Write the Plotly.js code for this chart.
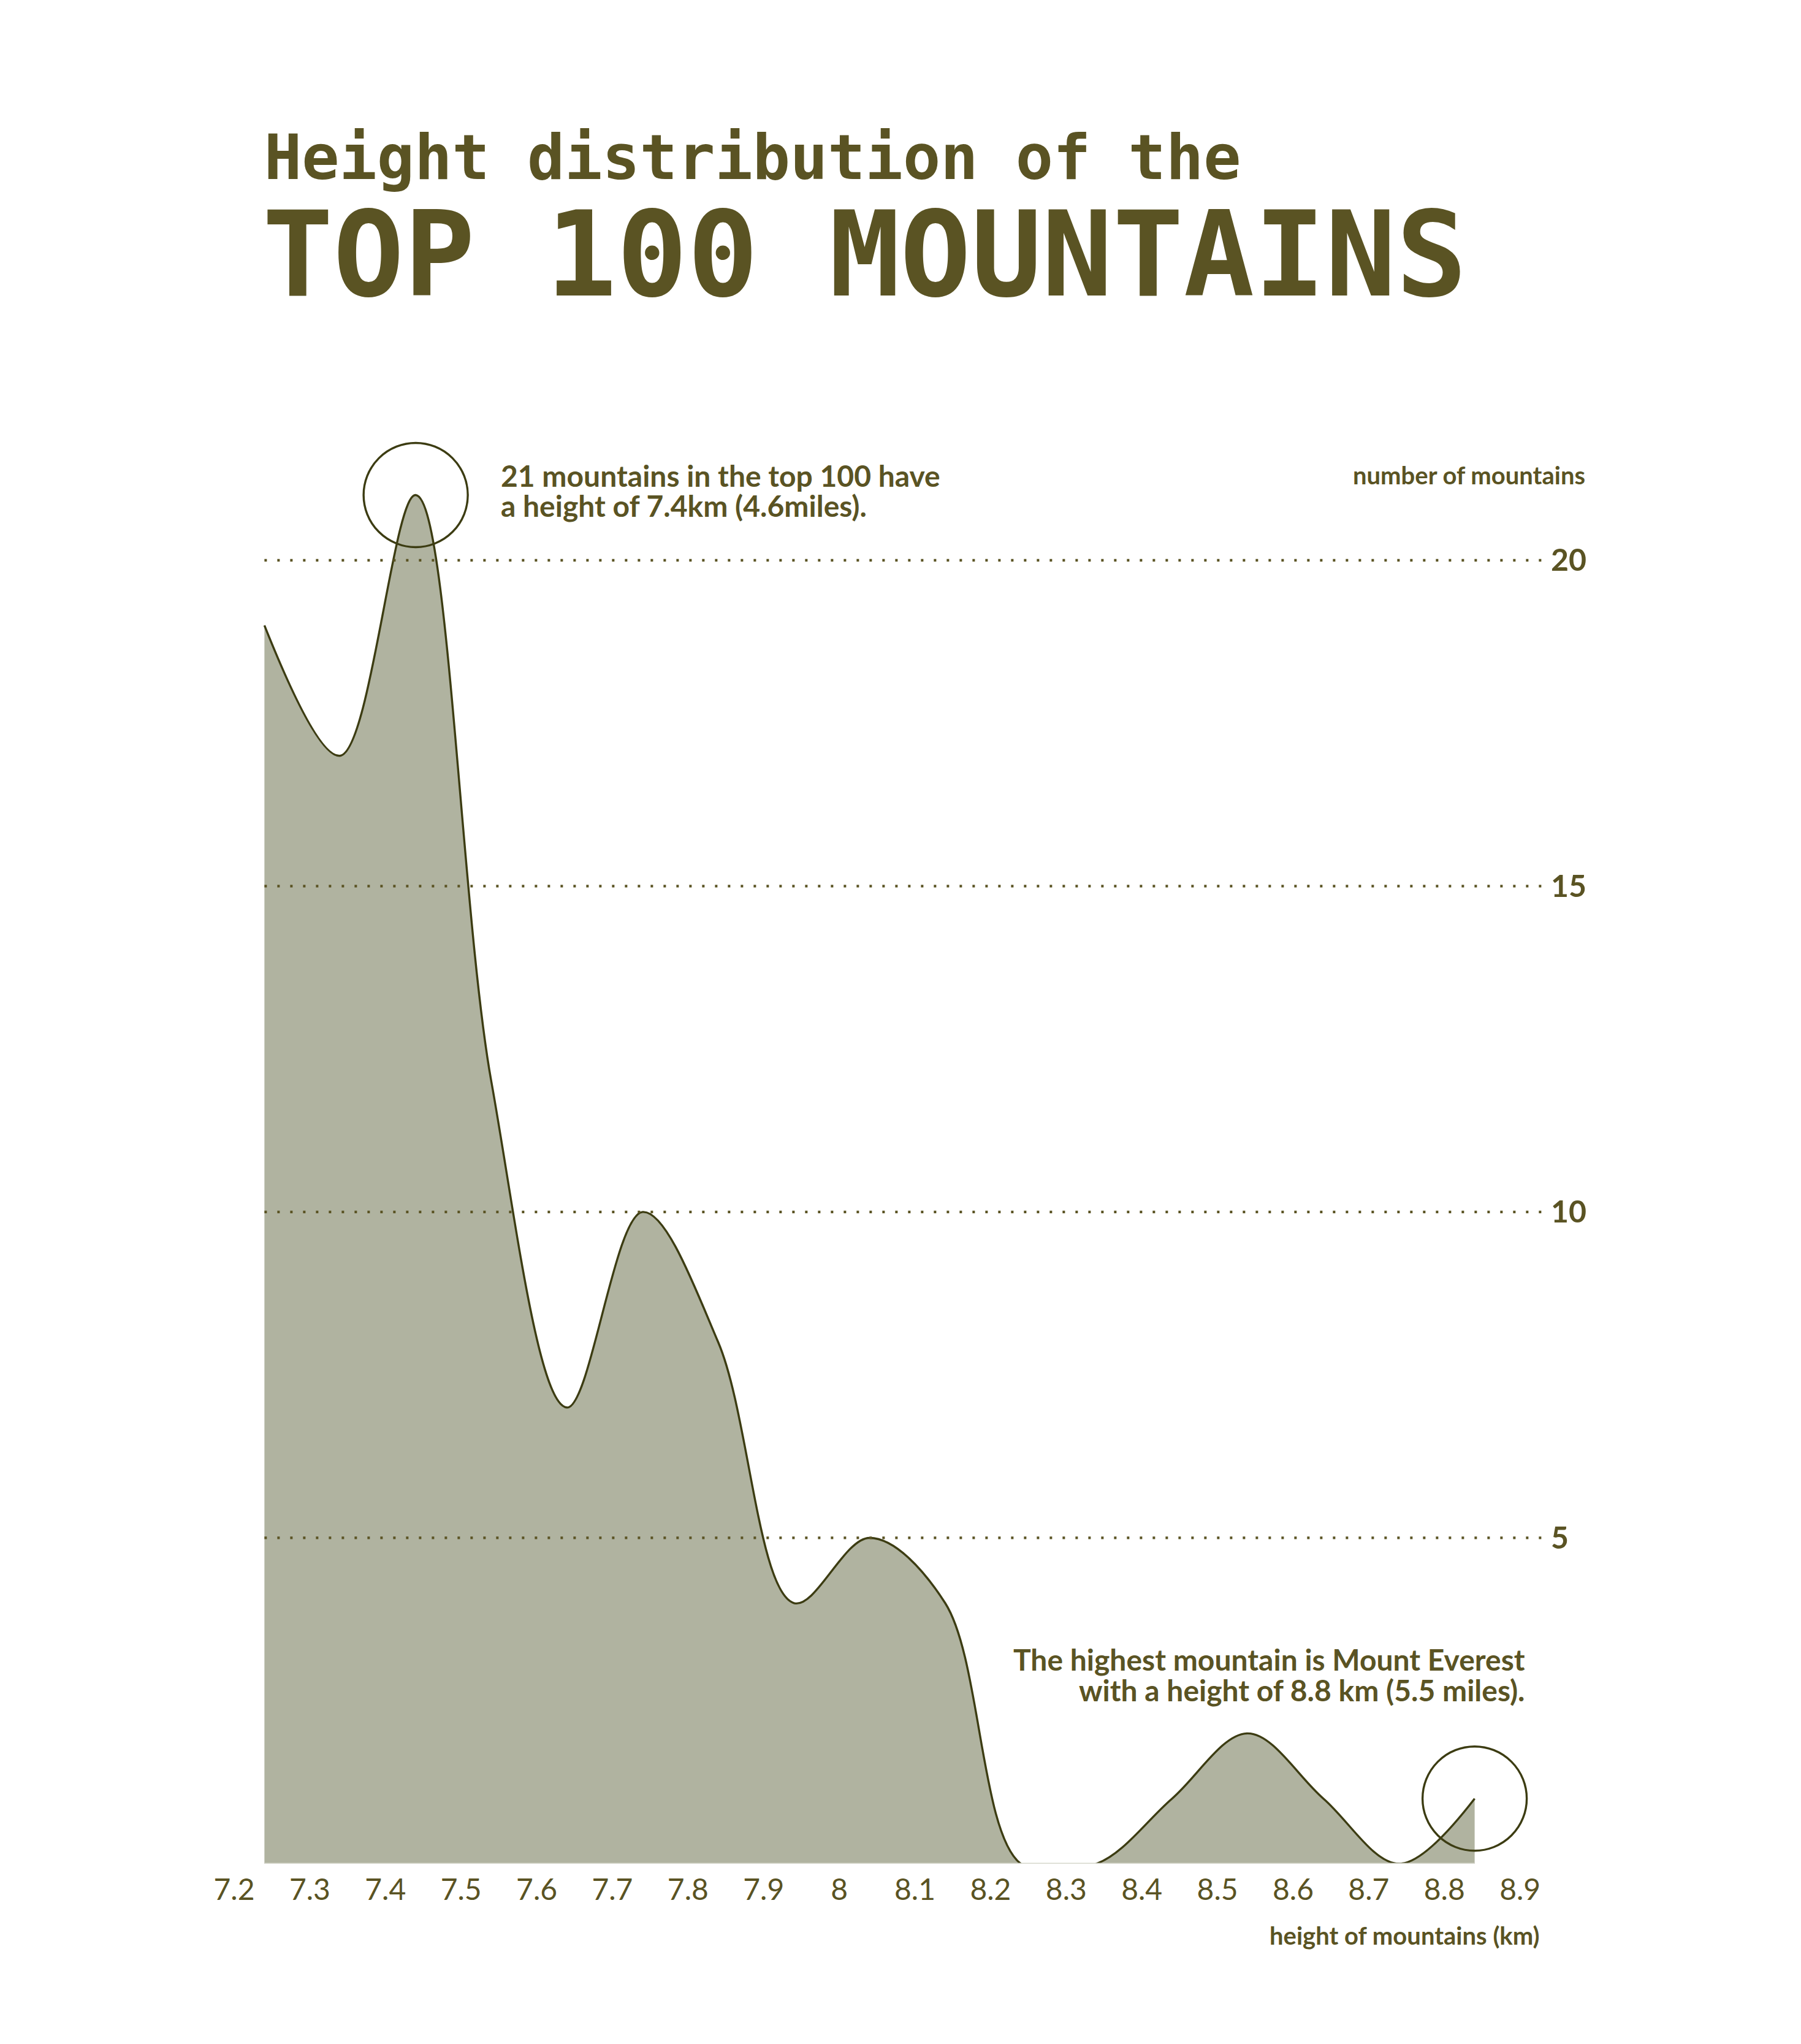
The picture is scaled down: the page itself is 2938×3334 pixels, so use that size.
<!DOCTYPE html>
<html>
<head>
<meta charset="utf-8">
<script src="https://cdn.plot.ly/plotly-3.0.1.min.js"></script>
<style>
  html, body { margin: 0; padding: 0; background: #ffffff; }
  #chart { width: 2938px; height: 3334px; }
</style>
</head>
<body>
<div id="chart"></div>
<script>
// ---- data ----
const heightsKm = [7.24, 7.34, 7.44, 7.54, 7.64, 7.74, 7.84, 7.94, 8.04, 8.14, 8.24, 8.34, 8.44, 8.54, 8.64, 8.74, 8.84];
const mountainCounts = [19, 17, 21, 12, 7, 10, 8, 4, 5, 4, 0, 0, 1, 2, 1, 0, 1];
const xTickValues = [7.2, 7.3, 7.4, 7.5, 7.6, 7.7, 7.8, 7.9, 8.0, 8.1, 8.2, 8.3, 8.4, 8.5, 8.6, 8.7, 8.8, 8.9];
const xTickLabels = ['7.2', '7.3', '7.4', '7.5', '7.6', '7.7', '7.8', '7.9', '8', '8.1', '8.2', '8.3', '8.4', '8.5', '8.6', '8.7', '8.8', '8.9'];
const yTickValues = [5, 10, 15, 20];
const yTickLabels = ['5', '10', '15', '20'];
const titleLine1 = 'Height distribution of the';
const titleLine2 = 'TOP 100 MOUNTAINS';
const peakNoteLines = ['21 mountains in the top 100 have', 'a height of 7.4km (4.6miles).'];
const everestNoteLines = ['The highest mountain is Mount Everest', 'with a height of 8.8 km (5.5 miles).'];
const yAxisLabel = 'number of mountains';
const xAxisLabel = 'height of mountains (km)';

// ---- layout geometry (pixels) ----
const W = 2938, H = 3334;
const L = 381.7, R = 2529, T = 648, B = 3040;
const xRange = [7.2, 8.94];
const yRange = [0, 22.5];
const px = p => (p - L) / (R - L);
const py = p => (B - p) / (B - T);

const TEXT = '#5a5323';
const LINE = '#3c3c12';
const FILL = '#b0b3a0';
const SANS = 'Lato, "Open Sans", sans-serif';
const MONO = '"DejaVu Sans Mono", "Liberation Mono", monospace';

// baseline -> middle helper (font box center above baseline)
const mid = (baseline, size, k) => py(baseline - k * size);

const annotations = [];
function addText(text, xPix, baseline, size, family, weight, anchor, k) {
  annotations.push({
    text: text, xref: 'paper', yref: 'paper',
    x: px(xPix), y: mid(baseline, size, k),
    xanchor: anchor, yanchor: 'middle', showarrow: false, borderpad: 0,
    font: { family: family, size: size, color: TEXT, weight: weight }
  });
}
addText(titleLine1, 430, 292.7, 101.8, MONO, 700, 'left', 0.346);
addText(titleLine2, 427, 482.3, 192, MONO, 700, 'left', 0.346);
addText(peakNoteLines[0], 816, 794, 48, SANS, 700, 'left', 0.387);
addText(peakNoteLines[1], 816, 843, 48, SANS, 700, 'left', 0.387);
addText(everestNoteLines[0], 2489, 2725.5, 48, SANS, 700, 'right', 0.387);
addText(everestNoteLines[1], 2489, 2775, 48, SANS, 700, 'right', 0.387);
addText(yAxisLabel, 2587, 790, 40, SANS, 700, 'right', 0.387);
addText(xAxisLabel, 2513, 3172, 40, SANS, 700, 'right', 0.387);

// ---- shapes: dotted gridlines, baseline, highlight circles ----
const shapes = [];
yTickValues.forEach(v => {
  shapes.push({
    type: 'line', xref: 'x', yref: 'y', layer: 'above',
    x0: heightsKm[0], x1: xRange[1], y0: v, y1: v,
    line: { color: TEXT, width: 4.2, dash: '4px,17px' }
  });
});
shapes.push({
  type: 'line', xref: 'x', yref: 'y', layer: 'above',
  x0: heightsKm[0], x1: heightsKm[heightsKm.length - 1], y0: 0, y1: 0,
  line: { color: '#d6d7cc', width: 3 }
});
const peakIdx = mountainCounts.indexOf(Math.max(...mountainCounts));
const lastIdx = heightsKm.length - 1;
[peakIdx, lastIdx].forEach(i => {
  shapes.push({
    type: 'circle', xref: 'x', yref: 'y', layer: 'above',
    xsizemode: 'pixel', ysizemode: 'pixel',
    xanchor: heightsKm[i], yanchor: mountainCounts[i],
    x0: -85, x1: 85, y0: -85, y1: 85,
    line: { color: LINE, width: 3.4 }, fillcolor: 'rgba(0,0,0,0)'
  });
});

const trace = {
  type: 'scatter', mode: 'lines',
  x: heightsKm, y: mountainCounts,
  line: { shape: 'spline', smoothing: 1, color: LINE, width: 3.4 },
  fill: 'tozeroy', fillcolor: FILL,
  hoverinfo: 'skip'
};

const layout = {
  width: W, height: H,
  margin: { l: L, r: W - R, t: T, b: H - B, pad: 0 },
  paper_bgcolor: '#ffffff', plot_bgcolor: '#ffffff',
  showlegend: false,
  xaxis: {
    range: xRange, showgrid: false, zeroline: false, showline: false,
    tickmode: 'array', tickvals: xTickValues, ticktext: xTickLabels,
    ticks: '', ticklabelstandoff: 10,
    tickfont: { family: SANS, size: 48, color: TEXT, weight: 400 }
  },
  yaxis: {
    range: yRange, side: 'right', showgrid: false, zeroline: false, showline: false,
    tickmode: 'array', tickvals: yTickValues, ticktext: yTickLabels,
    ticks: '', ticklabelstandoff: 0,
    tickfont: { family: SANS, size: 50, color: TEXT, weight: 700 }
  },
  shapes: shapes,
  annotations: annotations
};

Plotly.newPlot('chart', [trace], layout, { displayModeBar: false, staticPlot: true });
</script>
</body>
</html>
